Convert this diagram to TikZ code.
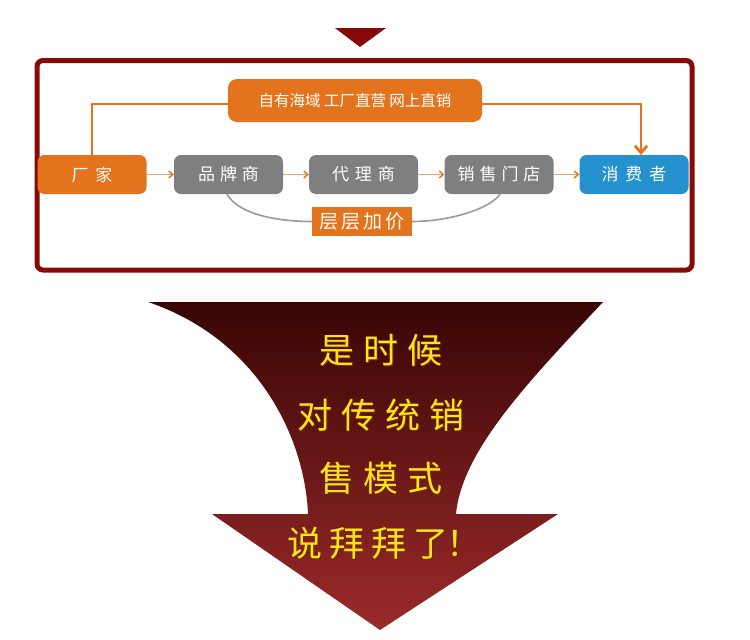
\documentclass[tikz,border=0pt]{standalone}
\usepackage{fontspec}
\newfontfamily\cjk{Noto Sans CJK SC}
\usetikzlibrary{arrows.meta}
\definecolor{orangeA}{HTML}{E3731C}
\definecolor{grayA}{HTML}{7F7F7F}
\definecolor{blueA}{HTML}{2591CF}
\definecolor{lineO}{HTML}{F2A36C}
\definecolor{frameR}{HTML}{860A0A}
\definecolor{curveG}{HTML}{9A9A9A}
\definecolor{arrTop}{HTML}{380505}
\definecolor{arrBot}{HTML}{9C2A2A}
\definecolor{yellowA}{HTML}{FFE21A}
\definecolor{shadowA}{HTML}{6A2A00}
\begin{document}
\begin{tikzpicture}[x=1pt,y=-1pt,
  rowbox/.style={rounded corners=7pt, minimum width=109pt, minimum height=39pt,
    inner sep=0pt, text=white, font=\cjk\fontsize{17}{17}\selectfont},
  conn/.style={draw=lineO, line width=1.4pt, -{Straight Barb[length=4pt,width=7pt,color=orangeA]}},
  topline/.style={draw=orangeA, line width=2.8pt},
  curvel/.style={draw=curveG, line width=1.6pt},
  bigtxt/.style={font=\cjk\fontsize{35}{35}\selectfont, text=yellowA, inner sep=0pt},
  bigshadow/.style={font=\cjk\fontsize{35}{35}\selectfont, text=shadowA, inner sep=0pt}
]
\useasboundingbox (0,0) rectangle (750,640);
\fill[white] (0,0) rectangle (750,640);

% small top triangle
\fill[frameR] (335,28) -- (386,28) -- (360,47) -- cycle;

% frame
\draw[frameR, line width=5pt, rounded corners=6pt] (37,60.5) rectangle (692,270);

% top box
\node[fill=orangeA, rounded corners=9pt, minimum width=254pt, minimum height=43pt,
  inner sep=0pt, text=white, font=\cjk\fontsize{15.5}{15.5}\selectfont] (top) at (355,100.5)
  {自有海域 工厂直营 网上直销};

% row boxes
\node[rowbox, fill=orangeA] (f) at (92,174.5) {厂\kern7pt 家};
\node[rowbox, fill=grayA] (p) at (228.5,174.5) {品\kern5pt 牌\kern5pt 商};
\node[rowbox, fill=grayA] (d) at (363.5,174.5) {代\kern6pt 理\kern6pt 商};
\node[rowbox, fill=grayA] (s) at (499,174.5) {销\kern5pt 售\kern5pt 门\kern5pt 店};
\node[rowbox, fill=blueA] (c) at (634,174.5) {消\kern7pt 费\kern7pt 者};

% connectors
\draw[conn] (f) -- (p);
\draw[conn] (p) -- (d);
\draw[conn] (d) -- (s);
\draw[conn] (s) -- (c);

% direct line
\coordinate (cin) at (641,155);
\draw[topline] ([yshift=-3.5pt]top.west) -| (f.north);
\draw[topline, -{Straight Barb[length=7pt,width=12pt]}] ([yshift=-3.5pt]top.east) -| (cin);

% layered price
\node[fill=orangeA, minimum width=100pt, minimum height=29pt, inner sep=0pt,
  text=white, font=\cjk\fontsize{19}{19}\selectfont] (ll) at (362,221.5)
  {层\kern3pt 层\kern3pt 加\kern3pt 价};
\draw[curvel] ([xshift=-1.5pt]p.south) .. controls +(12,21) and +(-32,0) .. (ll.west);
\draw[curvel] (ll.east) .. controls +(38,0) and +(-9,14) .. ([xshift=1pt]s.south);

% big arrow
\shade[top color=arrTop, bottom color=arrBot]
  (148,302) -- (603,302) .. controls (530,380) and (462,450) .. (456,514)
  -- (558,514) -- (380,630) -- (212,514) -- (308,514)
  .. controls (305,440) and (260,340) .. (148,302) -- cycle;

% big text
\node[bigshadow] (s1) at (382.2,351.2) {是\kern9pt 时\kern9pt 候};
\node[bigtxt] (t1) at (381,350) {是\kern9pt 时\kern9pt 候};
\node[bigshadow] (s2) at (382.2,416.2) {对\kern9pt 传\kern9pt 统\kern9pt 销};
\node[bigtxt] (t2) at (381,415) {对\kern9pt 传\kern9pt 统\kern9pt 销};
\node[bigshadow] (s3) at (382.2,479.2) {售\kern9pt 模\kern9pt 式};
\node[bigtxt] (t3) at (381,478) {售\kern9pt 模\kern9pt 式};
\node[bigshadow, anchor=west] (s4) at (288.2,544.2) {说\kern7pt 拜\kern7pt 拜\kern7pt 了\kern-2pt ！};
\node[bigtxt, anchor=west] (t4) at (287,543) {说\kern7pt 拜\kern7pt 拜\kern7pt 了\kern-2pt ！};
\end{tikzpicture}
\end{document}
